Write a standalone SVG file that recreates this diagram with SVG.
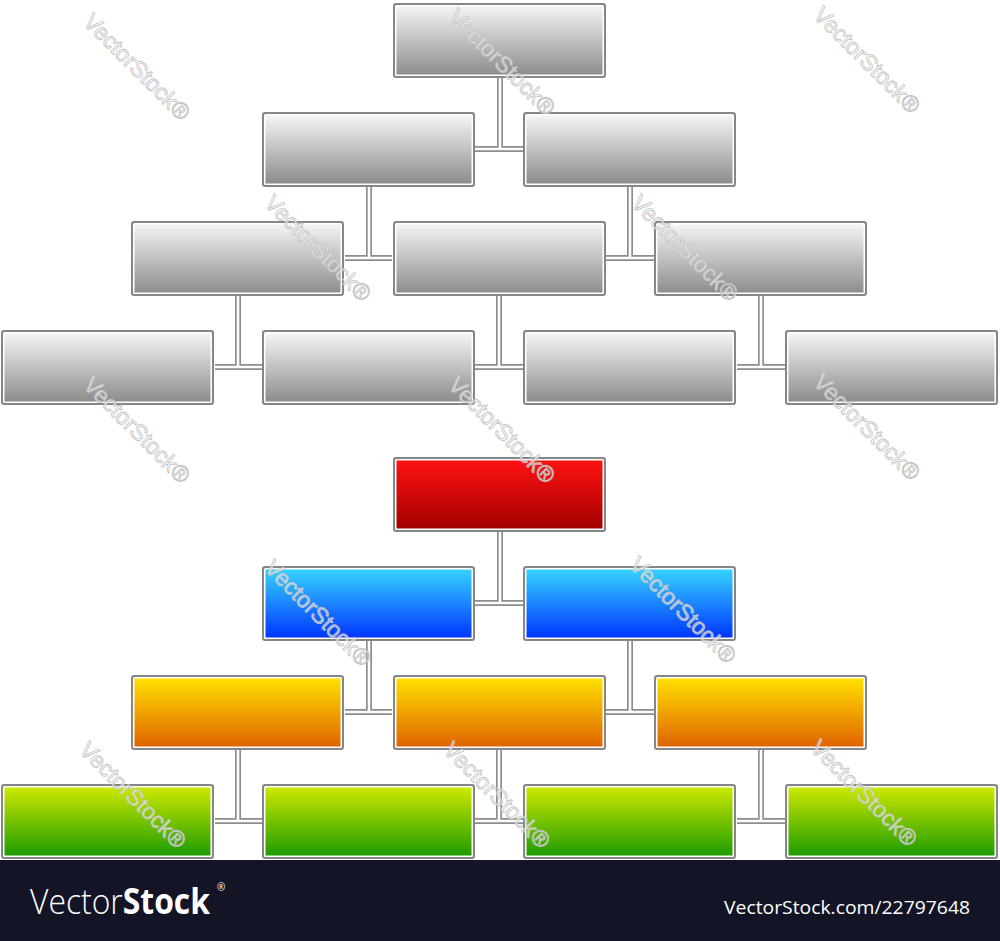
<svg xmlns="http://www.w3.org/2000/svg" width="1000" height="941" viewBox="0 0 1000 941">
<style>
.frame{fill:#868686}
.inner{fill:#ffffff}
.conn-o{fill:none;stroke:#8d8d8d;stroke-width:6}
.conn-i{fill:none;stroke:#ffffff;stroke-width:2.6}
.wm{font-family:"Liberation Sans",Arial,sans-serif;font-size:23px;fill:#ffffff;fill-opacity:0.6;stroke:#c2c2c2;stroke-width:0.8}
.ft{font-family:"Open Sans","Liberation Sans",sans-serif;fill:#ffffff}
</style>
<defs>
<linearGradient id="gGray" x1="0" y1="0" x2="0" y2="1"><stop offset="0" stop-color="#f4f4f4"/><stop offset="1" stop-color="#8d8d8d"/></linearGradient>
<linearGradient id="gRed" x1="0" y1="0" x2="0" y2="1"><stop offset="0" stop-color="#ff1212"/><stop offset="1" stop-color="#a30000"/></linearGradient>
<linearGradient id="gBlue" x1="0" y1="0" x2="0" y2="1"><stop offset="0" stop-color="#36d2ff"/><stop offset="1" stop-color="#0036ff"/></linearGradient>
<linearGradient id="gOrange" x1="0" y1="0" x2="0" y2="1"><stop offset="0" stop-color="#ffe000"/><stop offset="1" stop-color="#e06400"/></linearGradient>
<linearGradient id="gGreen" x1="0" y1="0" x2="0" y2="1"><stop offset="0" stop-color="#cce800"/><stop offset="1" stop-color="#1f9c00"/></linearGradient>
<g id="boxBase">
<rect class="frame" x="0" y="0" width="213" height="75" rx="3"/>
<rect class="inner" x="2" y="2" width="209" height="71" rx="1.5"/>
</g>
</defs>
<rect x="0" y="0" width="1000" height="941" fill="#ffffff"/>

<g id="connectors">
<path class="conn-o" d="M500,78V149M475,149H523M369,187V258M345,258H392M630,187V258M606,258H654M238,296V367M215,367H262M499,296V367M475,367H523M761,296V367M737,367H785"/>
<path class="conn-i" d="M500,78V149M475,149H523M369,187V258M345,258H392M630,187V258M606,258H654M238,296V367M215,367H262M499,296V367M475,367H523M761,296V367M737,367H785"/>
<path class="conn-o" d="M500,532V603M475,603H523M369,641V712M345,712H392M630,641V712M606,712H654M238,750V821M215,821H262M499,750V821M475,821H523M761,750V821M737,821H785"/>
<path class="conn-i" d="M500,532V603M475,603H523M369,641V712M345,712H392M630,641V712M606,712H654M238,750V821M215,821H262M499,750V821M475,821H523M761,750V821M737,821H785"/>
</g>

<g id="gray-1"><use href="#boxBase" x="393" y="3"/><rect x="396.5" y="6.5" width="206" height="68" fill="url(#gGray)"/></g>
<g id="gray-2a"><use href="#boxBase" x="262" y="112"/><rect x="265.5" y="115.5" width="206" height="68" fill="url(#gGray)"/></g>
<g id="gray-2b"><use href="#boxBase" x="523" y="112"/><rect x="526.5" y="115.5" width="206" height="68" fill="url(#gGray)"/></g>
<g id="gray-3a"><use href="#boxBase" x="131" y="221"/><rect x="134.5" y="224.5" width="206" height="68" fill="url(#gGray)"/></g>
<g id="gray-3b"><use href="#boxBase" x="393" y="221"/><rect x="396.5" y="224.5" width="206" height="68" fill="url(#gGray)"/></g>
<g id="gray-3c"><use href="#boxBase" x="654" y="221"/><rect x="657.5" y="224.5" width="206" height="68" fill="url(#gGray)"/></g>
<g id="gray-4a"><use href="#boxBase" x="1" y="330"/><rect x="4.5" y="333.5" width="206" height="68" fill="url(#gGray)"/></g>
<g id="gray-4b"><use href="#boxBase" x="262" y="330"/><rect x="265.5" y="333.5" width="206" height="68" fill="url(#gGray)"/></g>
<g id="gray-4c"><use href="#boxBase" x="523" y="330"/><rect x="526.5" y="333.5" width="206" height="68" fill="url(#gGray)"/></g>
<g id="gray-4d"><use href="#boxBase" x="785" y="330"/><rect x="788.5" y="333.5" width="206" height="68" fill="url(#gGray)"/></g>

<g id="red-1"><use href="#boxBase" x="393" y="457"/><rect x="396.5" y="460.5" width="206" height="68" fill="url(#gRed)"/></g>
<g id="blue-2a"><use href="#boxBase" x="262" y="566"/><rect x="265.5" y="569.5" width="206" height="68" fill="url(#gBlue)"/></g>
<g id="blue-2b"><use href="#boxBase" x="523" y="566"/><rect x="526.5" y="569.5" width="206" height="68" fill="url(#gBlue)"/></g>
<g id="orange-3a"><use href="#boxBase" x="131" y="675"/><rect x="134.5" y="678.5" width="206" height="68" fill="url(#gOrange)"/></g>
<g id="orange-3b"><use href="#boxBase" x="393" y="675"/><rect x="396.5" y="678.5" width="206" height="68" fill="url(#gOrange)"/></g>
<g id="orange-3c"><use href="#boxBase" x="654" y="675"/><rect x="657.5" y="678.5" width="206" height="68" fill="url(#gOrange)"/></g>
<g id="green-4a"><use href="#boxBase" x="1" y="784"/><rect x="4.5" y="787.5" width="206" height="68" fill="url(#gGreen)"/></g>
<g id="green-4b"><use href="#boxBase" x="262" y="784"/><rect x="265.5" y="787.5" width="206" height="68" fill="url(#gGreen)"/></g>
<g id="green-4c"><use href="#boxBase" x="523" y="784"/><rect x="526.5" y="787.5" width="206" height="68" fill="url(#gGreen)"/></g>
<g id="green-4d"><use href="#boxBase" x="785" y="784"/><rect x="788.5" y="787.5" width="206" height="68" fill="url(#gGreen)"/></g>

<g id="watermarks">
<text class="wm" transform="translate(137,67) rotate(45)" text-anchor="middle" dominant-baseline="central">VectorStock®</text>
<text class="wm" transform="translate(502,62) rotate(45)" text-anchor="middle" dominant-baseline="central">VectorStock®</text>
<text class="wm" transform="translate(867,60) rotate(45)" text-anchor="middle" dominant-baseline="central">VectorStock®</text>
<text class="wm" transform="translate(318,248) rotate(45)" text-anchor="middle" dominant-baseline="central">VectorStock®</text>
<text class="wm" transform="translate(685,248) rotate(45)" text-anchor="middle" dominant-baseline="central">VectorStock®</text>
<text class="wm" transform="translate(137,430) rotate(45)" text-anchor="middle" dominant-baseline="central">VectorStock®</text>
<text class="wm" transform="translate(502,430) rotate(45)" text-anchor="middle" dominant-baseline="central">VectorStock®</text>
<text class="wm" transform="translate(867,427) rotate(45)" text-anchor="middle" dominant-baseline="central">VectorStock®</text>
<text class="wm" transform="translate(318,613) rotate(45)" text-anchor="middle" dominant-baseline="central">VectorStock®</text>
<text class="wm" transform="translate(683,610) rotate(45)" text-anchor="middle" dominant-baseline="central">VectorStock®</text>
<text class="wm" transform="translate(133,795) rotate(45)" text-anchor="middle" dominant-baseline="central">VectorStock®</text>
<text class="wm" transform="translate(497,795) rotate(45)" text-anchor="middle" dominant-baseline="central">VectorStock®</text>
<text class="wm" transform="translate(864,793) rotate(45)" text-anchor="middle" dominant-baseline="central">VectorStock®</text>
</g>

<g id="footer">
<rect x="0" y="860" width="1000" height="81" fill="#131426"/>
<text class="ft" x="30" y="914" font-size="35" textLength="180" lengthAdjust="spacingAndGlyphs"><tspan font-weight="300">Vector</tspan><tspan font-weight="bold">Stock</tspan></text>
<text class="ft" x="217" y="891" font-size="10">®</text>
<text class="ft" x="970" y="914" font-size="19" text-anchor="end" textLength="246" lengthAdjust="spacingAndGlyphs">VectorStock.com/22797648</text>
</g>
</svg>
